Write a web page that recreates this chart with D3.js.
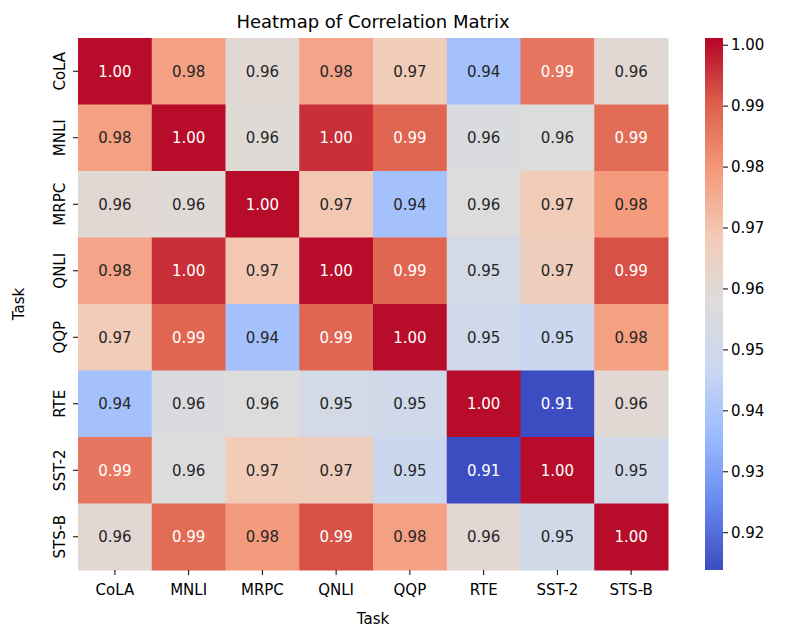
<!DOCTYPE html>
<html><head>
<script src="https://cdn.jsdelivr.net/npm/d3@7"></script>
<style>
  body { margin: 0; background: #fff; }
  text { font-family: "DejaVu Sans", sans-serif; }
</style>
</head>
<body>
<svg width="800" height="642"></svg>
<script>
// task names, same on both axes
const tasks = ["CoLA", "MNLI", "MRPC", "QNLI", "QQP", "RTE", "SST-2", "STS-B"];
// correlation values (rows = y task, cols = x task)
const corr = [
  [1.000, 0.978, 0.960, 0.977, 0.968, 0.938, 0.986, 0.960],
  [0.978, 1.000, 0.959, 0.996, 0.989, 0.956, 0.957, 0.988],
  [0.960, 0.959, 1.000, 0.969, 0.938, 0.957, 0.968, 0.979],
  [0.977, 0.996, 0.969, 1.000, 0.989, 0.952, 0.967, 0.992],
  [0.968, 0.989, 0.938, 0.989, 1.000, 0.950, 0.947, 0.978],
  [0.938, 0.956, 0.957, 0.952, 0.950, 1.000, 0.914, 0.960],
  [0.986, 0.957, 0.968, 0.967, 0.947, 0.914, 1.000, 0.951],
  [0.960, 0.988, 0.979, 0.992, 0.978, 0.960, 0.951, 1.000]
];
const cbTicks = [0.92, 0.93, 0.94, 0.95, 0.96, 0.97, 0.98, 0.99, 1.00];

const vmin = 0.9138, vmax = 1.0011;

// rough matplotlib coolwarm
const stops = ["#3b4cc0", "#6788ee", "#9abbff", "#c9d7f0", "#dddcdc", "#f2cbb7", "#f49a7b", "#de604d", "#b40426"];
const cw = d3.scaleLinear().domain(d3.range(stops.length).map(i => i / (stops.length - 1))).range(stops).interpolate(d3.interpolateRgb);
const color = v => cw((v - vmin) / (vmax - vmin));

const svg = d3.select("svg");
const mLeft = 78, mRight = 668, mTop = 38, mBottom = 570;

const x = d3.scaleBand().domain(tasks).range([mLeft, mRight]);
const y = d3.scaleBand().domain(tasks).range([mTop, mBottom]);

// cells
const cells = [];
corr.forEach((row, i) => row.forEach((v, j) => cells.push({r: tasks[i], c: tasks[j], v: v})));

svg.selectAll("rect.cell").data(cells).enter().append("rect")
    .attr("x", d => x(d.c))
    .attr("y", d => y(d.r))
    .attr("width", x.bandwidth() + 0.5)
    .attr("height", y.bandwidth() + 0.5)
    .attr("fill", d => color(d.v));

function lum(c) {
  const rgb = d3.rgb(c);
  const f = u => { u /= 255; return u <= 0.03928 ? u / 12.92 : Math.pow((u + 0.055) / 1.055, 2.4); };
  return 0.2126 * f(rgb.r) + 0.7152 * f(rgb.g) + 0.0722 * f(rgb.b);
}

svg.selectAll("text.val").data(cells).enter().append("text")
    .attr("x", d => x(d.c) + x.bandwidth() / 2)
    .attr("y", d => y(d.r) + y.bandwidth() / 2)
    .attr("dy", "0.35em")
    .attr("text-anchor", "middle")
    .style("font-size", "15px")
    .attr("fill", d => lum(color(d.v)) > 0.408 ? "#262626" : "#fff")
    .text(d => d.v.toFixed(2));

// axes
const xAxis = svg.append("g").attr("transform", `translate(0,${mBottom})`)
    .call(d3.axisBottom(x).tickSizeOuter(0).tickSize(5));
xAxis.select(".domain").remove();
xAxis.selectAll("text").style("font-size", "15px").attr("dy", "1.1em").attr("fill", "#000");

const yAxis = svg.append("g").attr("transform", `translate(${mLeft},0)`)
    .call(d3.axisLeft(y).tickSizeOuter(0).tickSize(5));
yAxis.select(".domain").remove();
yAxis.selectAll(".tick text").style("font-size", "15px").attr("fill", "#000")
    .attr("text-anchor", "middle")
    .attr("x", 0).attr("y", 0).attr("dy", "0.35em")
    .attr("transform", "translate(-18,0) rotate(-90)");

svg.append("text").attr("x", (mLeft + mRight) / 2).attr("y", 624)
    .attr("text-anchor", "middle").style("font-size", "15px").text("Task");
svg.append("text").attr("transform", `translate(24,${(mTop + mBottom) / 2}) rotate(-90)`)
    .attr("text-anchor", "middle").style("font-size", "15px").text("Task");
svg.append("text").attr("x", (mLeft + mRight) / 2).attr("y", 28)
    .attr("text-anchor", "middle").style("font-size", "18px").text("Heatmap of Correlation Matrix");

// colorbar
const cbx = 705, cbw = 18;
const cy = d3.scaleLinear().domain([vmin, vmax]).range([mBottom, mTop]);
const defs = svg.append("defs");
const grad = defs.append("linearGradient").attr("id", "cb").attr("x1", 0).attr("y1", 1).attr("x2", 0).attr("y2", 0);
stops.forEach((s, i) => grad.append("stop").attr("offset", i / (stops.length - 1)).attr("stop-color", s));
svg.append("rect").attr("x", cbx).attr("y", mTop).attr("width", cbw).attr("height", mBottom - mTop).attr("fill", "url(#cb)");
const cAxis = svg.append("g").attr("transform", `translate(${cbx + cbw},0)`)
    .call(d3.axisRight(cy).tickValues(cbTicks).tickFormat(d3.format(".2f")).tickSize(5).tickSizeOuter(0));
cAxis.select(".domain").remove();
cAxis.selectAll("text").style("font-size", "15px").attr("fill", "#000");
</script>
</body></html>
